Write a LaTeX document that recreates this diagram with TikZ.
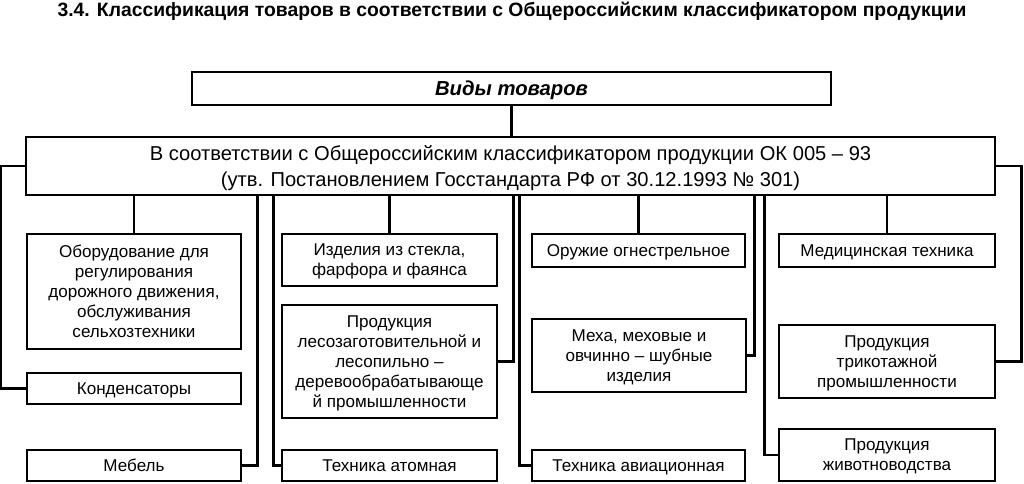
\documentclass[tikz,border=0pt]{standalone}
\usepackage{fontspec}
\setmainfont{Liberation Sans}

\tikzset{
  box/.style={draw, rectangle, line width=1.9pt, inner sep=0pt, align=center,
    text depth=-2.3pt, font=\fontsize{12.8}{15}\selectfont},
  link/.style={line width=1.9pt},
}

\begin{document}
\begin{tikzpicture}[x=0.75pt,y=-0.75pt]
    \useasboundingbox (0,0) rectangle (1024,484);

    % heading
    \node[font=\bfseries\fontsize{14.5}{16}\selectfont] (title) at (512,11)
      {3.4. Классификация товаров в соответствии с Общероссийским классификатором продукции};

    % top boxes
    \node[box, minimum width=479.25pt, minimum height=24.75pt, text depth=-3pt,
      font=\bfseries\itshape\fontsize{15.2}{18}\selectfont] (kinds) at (511.5,88.5) {Виды товаров};
    \node[box, minimum width=726.75pt, minimum height=43.5pt, text depth=-5.2pt,
      font=\fontsize{15.1}{18.8}\selectfont] (okp) at (510.5,166)
      {В соответствии с Общероссийским классификатором продукции ОК 005 – 93\\(утв. Постановлением Госстандарта РФ от 30.12.1993 № 301)};
    \draw[link] (kinds.south) -- (okp.north -| kinds.south);

    % first column
    \node[box, minimum width=160.5pt, minimum height=86.25pt] (traffic) at (134,291.5)
      {Оборудование для\\регулирования\\дорожного движения,\\обслуживания\\сельхозтехники};
    \node[box, minimum width=160.5pt, minimum height=23.25pt] (capac) at (134,388.5) {Конденсаторы};
    \node[box, minimum width=160.5pt, minimum height=23.25pt] (furn) at (134,465.5) {Мебель};

    % second column
    \node[box, minimum width=161.25pt, minimum height=39pt] (glass) at (389.5,260)
      {Изделия из стекла,\\фарфора и фаянса};
    \node[box, minimum width=161.25pt, minimum height=84.75pt] (wood) at (389.5,361.5)
      {Продукция\\лесозаготовительной и\\лесопильно –\\деревообрабатывающе\\й промышленности};
    \node[box, minimum width=161.25pt, minimum height=23.25pt] (nuclear) at (389.5,465.5) {Техника атомная};

    % third column
    \node[box, minimum width=159.75pt, minimum height=24.75pt] (arms) at (638.5,250.5) {Оружие огнестрельное};
    \node[box, minimum width=160.5pt, minimum height=54.75pt] (fur) at (639,355.5)
      {Меха, меховые и\\овчинно – шубные\\изделия};
    \node[box, minimum width=159.75pt, minimum height=23.25pt] (avia) at (638.5,465.5) {Техника авиационная};

    % fourth column
    \node[box, minimum width=162pt, minimum height=24.75pt] (med) at (887,250.5) {Медицинская техника};
    \node[box, minimum width=162pt, minimum height=54.75pt] (knit) at (887,361.5)
      {Продукция\\трикотажной\\промышленности};
    \node[box, minimum width=162pt, minimum height=39pt] (cattle) at (887,455)
      {Продукция\\животноводства};

    % straight drops onto the upper boxes
    \draw[link] (traffic.north) -- (traffic.north |- okp.south);
    \draw[link] (glass.north) -- (glass.north |- okp.south);
    \draw[link] (arms.north) -- (arms.north |- okp.south);
    \draw[link] (med.north) -- (med.north |- okp.south);

    % outer side lines
    \draw[link] (okp.west) -- ++(-24,0) |- (capac.west);
    \draw[link] (okp.east) -- ++(25,0) |- (knit.east);

    % lines running down beside the columns
    \draw[link] (furn.east) -- ++(15,0) coordinate (c) -- (c |- okp.south);
    \draw[link] (nuclear.west) -- ++(-7,0) coordinate (c) -- (c |- okp.south);
    \draw[link] (wood.east) -- ++(15,0) coordinate (c) -- (c |- okp.south);
    \draw[link] (avia.west) -- ++(-11,0) coordinate (c) -- (c |- okp.south);
    \draw[link] (fur.east) -- ++(7,0) coordinate (c) -- (c |- okp.south);
    \draw[link] (cattle.west) -- ++(-13,0) coordinate (c) -- (c |- okp.south);
\end{tikzpicture}
\end{document}
